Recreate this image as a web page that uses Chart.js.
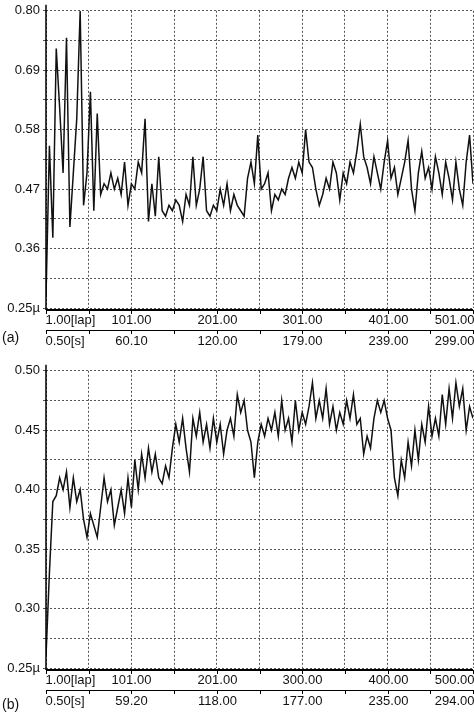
<!DOCTYPE html>
<html><head><meta charset="utf-8">
<script src="https://cdn.jsdelivr.net/npm/chart.js@4"></script>
<style>body{margin:0;background:#fff;width:474px;height:713px;overflow:hidden}
.p{position:absolute;left:0;width:474px}</style></head>
<body>
<div class="p" style="top:0;height:350px"><canvas id="ca"></canvas></div>
<div class="p" style="top:360px;height:353px"><canvas id="cb"></canvas></div>
<script>
const lapStep = 4;
const valuesA = [0.27,0.55,0.38,0.73,0.62,0.50,0.75,0.40,0.50,0.60,0.80,0.44,0.50,0.65,0.43,0.61,0.46,0.48,0.47,0.50,
0.47,0.49,0.46,0.52,0.44,0.48,0.47,0.52,0.50,0.60,0.41,0.48,0.42,0.53,0.43,0.42,0.44,0.43,0.45,0.44,
0.41,0.46,0.44,0.53,0.44,0.47,0.53,0.43,0.42,0.44,0.43,0.47,0.44,0.48,0.43,0.46,0.44,0.43,0.42,0.49,
0.52,0.48,0.57,0.47,0.48,0.50,0.43,0.46,0.45,0.47,0.46,0.49,0.51,0.49,0.52,0.50,0.58,0.52,0.51,0.47,
0.44,0.46,0.49,0.47,0.52,0.50,0.45,0.50,0.48,0.52,0.50,0.54,0.59,0.53,0.51,0.48,0.53,0.50,0.47,0.52,
0.56,0.49,0.51,0.46,0.49,0.52,0.56,0.47,0.43,0.50,0.54,0.49,0.51,0.47,0.53,0.50,0.46,0.52,0.49,0.45,
0.52,0.47,0.44,0.52,0.57,0.48];
const valuesB = [0.26,0.33,0.39,0.395,0.41,0.40,0.415,0.385,0.41,0.39,0.40,0.375,0.36,0.38,0.37,0.36,0.385,0.41,0.39,0.40,
0.37,0.385,0.40,0.38,0.41,0.385,0.425,0.40,0.43,0.41,0.435,0.415,0.43,0.41,0.405,0.42,0.41,0.435,0.455,0.44,
0.46,0.435,0.415,0.46,0.445,0.465,0.44,0.455,0.435,0.46,0.44,0.455,0.43,0.45,0.46,0.445,0.48,0.465,0.475,0.45,
0.44,0.41,0.44,0.455,0.445,0.46,0.45,0.465,0.445,0.475,0.45,0.46,0.44,0.475,0.45,0.465,0.455,0.47,0.49,0.46,
0.475,0.46,0.485,0.455,0.47,0.45,0.465,0.455,0.475,0.46,0.48,0.455,0.46,0.43,0.445,0.435,0.46,0.475,0.465,0.475,
0.46,0.45,0.41,0.395,0.425,0.41,0.44,0.42,0.45,0.425,0.455,0.44,0.47,0.445,0.46,0.445,0.48,0.455,0.485,0.46,
0.49,0.47,0.485,0.45,0.47,0.46];
const gridLaps = [1,51,101,151,201,251,301,351,401,451,501];
const lapLabelsA = ['1.00[lap]','','101.00','','201.00','','301.00','','401.00','','501.00'];
const secLabelsA = ['0.50[s]','','60.10','','120.00','','179.00','','239.00','','299.00'];
const lapLabelsB = ['1.00[lap]','','101.00','','201.00','','300.00','','400.00','','500.00'];
const secLabelsB = ['0.50[s]','','59.20','','118.00','','177.00','','235.00','','294.00'];
const yTicksA = [0.25,0.305,0.36,0.415,0.47,0.525,0.58,0.635,0.69,0.745,0.80];
const yLabelsA = ['0.25µ','','0.36','','0.47','','0.58','','0.69','','0.80'];
const yTicksB = [0.25,0.275,0.30,0.325,0.35,0.375,0.40,0.425,0.45,0.475,0.50];
const yLabelsB = ['0.25µ','','0.30','','0.35','','0.40','','0.45','','0.50'];

const FONT = 'Liberation Sans, Arial, sans-serif';
function make(id, vals, yt, yl, lapL, secL, tag, pad, tagDy){
  const axisPlugin = {id:'ax'+id, afterDraw(c){
    const ctx=c.ctx, a=c.chartArea, xs=c.scales.x;
    ctx.save(); ctx.strokeStyle='#000'; ctx.fillStyle='#111';
    ctx.lineWidth=1.5; ctx.beginPath(); ctx.moveTo(a.left,a.top-6); ctx.lineTo(a.left,a.bottom+2); ctx.stroke();
    ctx.lineWidth=2; ctx.beginPath(); ctx.moveTo(a.left,a.bottom+2); ctx.lineTo(a.right,a.bottom+2); ctx.stroke();
    ctx.lineWidth=1; ctx.beginPath(); ctx.moveTo(a.left,a.bottom+22.5); ctx.lineTo(a.right,a.bottom+22.5); ctx.stroke();
    ctx.font='13px '+FONT; ctx.textBaseline='middle';
    gridLaps.forEach((g,i)=>{
      const px=Math.round(xs.getPixelForValue(g))+0.5;
      ctx.beginPath(); ctx.moveTo(px,a.bottom+2); ctx.lineTo(px,a.bottom+6); ctx.stroke();
      ctx.beginPath(); ctx.moveTo(px,a.bottom+22); ctx.lineTo(px,a.bottom+26); ctx.stroke();
      ctx.textAlign = i===0?'left':(i===gridLaps.length-1?'right':'center');
      const ox = i===0?-1:(i===gridLaps.length-1?1:0);
      if(lapL[i]) ctx.fillText(lapL[i], px+ox, a.bottom+12);
      if(secL[i]) ctx.fillText(secL[i], px+ox, a.bottom+33);
    });
    ctx.textAlign='left'; ctx.font='14px '+FONT;
    ctx.fillText(tag, 2, a.bottom+tagDy);
    ctx.restore();
  }};
  new Chart(document.getElementById(id), {
    type:'line',
    data:{datasets:[{data:vals.map((v,i)=>({x:1+i*lapStep,y:v})),borderColor:'#111',borderWidth:1.5,pointRadius:0,tension:0}]},
    options:{responsive:true,maintainAspectRatio:false,animation:false,
      layout:{padding:pad},
      plugins:{legend:{display:false},tooltip:{enabled:false}},
      scales:{
        x:{type:'linear',min:1,max:501,
          afterBuildTicks:s=>{s.ticks=gridLaps.map(v=>({value:v}));},
          afterFit:s=>{s.height=0;},
          ticks:{display:false},border:{display:false,dash:[2,2]},
          grid:{color:'#555',lineWidth:1,drawTicks:false}},
        y:{min:yt[0],max:yt[yt.length-1],
          afterBuildTicks:s=>{s.ticks=yt.map(v=>({value:v}));},
          afterFit:s=>{s.width=46-pad.left;},
          ticks:{color:'#111',font:{family:FONT,size:13},padding:3,callback:(v,i)=>yl[i]},
          border:{display:false,dash:[2,2]},
          grid:{color:'#555',lineWidth:1,tickLength:3}}
      }
    },
    plugins:[axisPlugin]
  });
}
make('ca', valuesA, yTicksA, yLabelsA, lapLabelsA, secLabelsA, '(a)', {top:7,right:1,bottom:42,left:0}, 30);
make('cb', valuesB, yTicksB, yLabelsB, lapLabelsB, secLabelsB, '(b)', {top:8,right:1,bottom:45,left:0}, 37);
</script>
</body></html>
